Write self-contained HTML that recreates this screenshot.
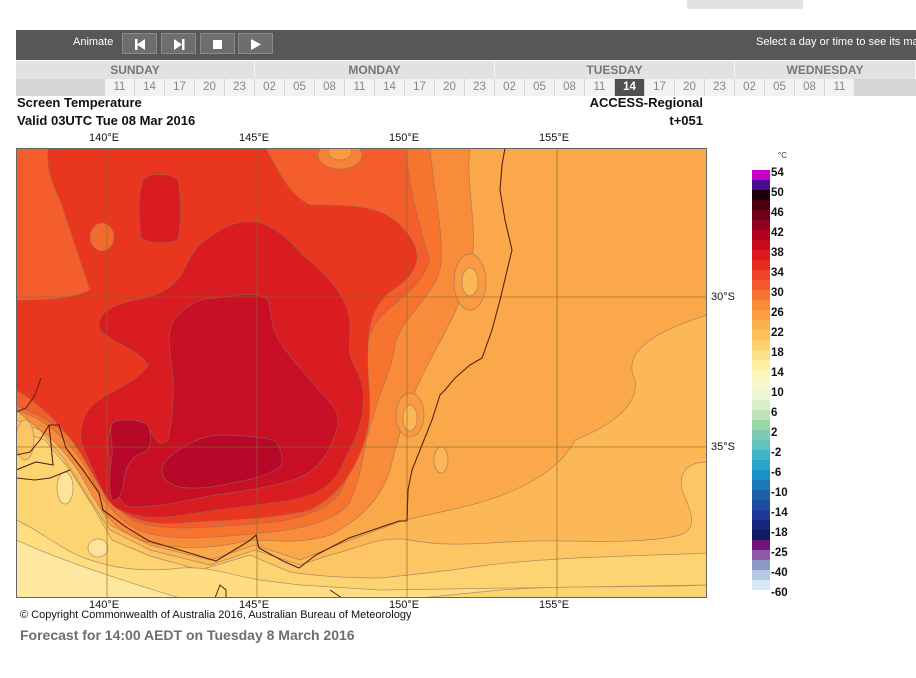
<!DOCTYPE html>
<html><head><meta charset="utf-8">
<style>
*{margin:0;padding:0;box-sizing:border-box}
body{width:916px;height:678px;background:#fff;position:relative;overflow:hidden;font-family:"Liberation Sans",Arial,sans-serif}
.a{position:absolute;white-space:nowrap}
.bar{left:16px;top:30px;width:900px;height:30px;background:#575757}
.btn{top:33px;width:35px;height:21px;background:#6e6e6e;border:1px solid #8a8a8a}
.day{top:61px;height:18px;background:#e2e2e2;color:#777;font-size:12px;font-weight:bold;text-align:center;line-height:18px;border-right:1px solid #f4f4f4}
.hr{top:79px;height:17px;width:30px;background:#f2f2f2;border-right:1px solid #d4d4d4;color:#888;font-size:11.5px;text-align:center;line-height:17px}
.t{font-size:13px;font-weight:bold;color:#111}
.ax{font-size:11px;color:#111}
.cb{font-size:11.5px;font-weight:bold;color:#111;left:771px}
</style></head><body>
<div class="a" style="left:687px;top:0;width:116px;height:9px;background:#e2e2e2;border-radius:0 0 2px 2px"></div>
<div class="a bar"></div>
<div class="a" style="left:73px;top:36px;color:#fff;font-size:11px">Animate</div>
<div class="a btn" style="left:122px"><svg width="35" height="21"><rect x="12" y="5" width="2.5" height="11" fill="#fff"/><polygon points="14,10.5 22,5 22,16" fill="#fff"/></svg></div>
<div class="a btn" style="left:161px"><svg width="35" height="21"><polygon points="12,5 20,10.5 12,16" fill="#fff"/><rect x="20" y="5" width="2.5" height="11" fill="#fff"/></svg></div>
<div class="a btn" style="left:200px"><svg width="35" height="21"><rect x="12" y="6" width="9" height="9" fill="#fff"/></svg></div>
<div class="a btn" style="left:238px"><svg width="35" height="21"><polygon points="12,5 22,10.5 12,16" fill="#fff"/></svg></div>
<div class="a" style="left:756px;top:36px;color:#fff;font-size:11px">Select a day or time to see its map</div>
<div class="a" style="left:16px;top:61px;width:900px;height:35px;background:#d6d6d6"></div>
<div class="a day" style="left:16px;width:239px">SUNDAY</div>
<div class="a day" style="left:255px;width:240px">MONDAY</div>
<div class="a day" style="left:495px;width:240px">TUESDAY</div>
<div class="a day" style="left:735px;width:181px">WEDNESDAY</div>
<div id="hrs"></div>
<script>
var h=["11","14","17","20","23","02","05","08","11","14","17","20","23","02","05","08","11","14","17","20","23","02","05","08","11"];
var s="";for(var i=0;i<h.length;i++){var sel=(i==17);s+='<div class="a hr" style="left:'+(105+30*i)+'px;'+(sel?'background:#505050;color:#fff;font-weight:bold;':'')+'">'+h[i]+'</div>';}
document.getElementById("hrs").innerHTML=s;
</script>
<div class="a t" style="left:17px;top:95px">Screen Temperature</div>
<div class="a t" style="left:17px;top:113px">Valid 03UTC Tue 08 Mar 2016</div>
<div class="a t" style="right:213px;top:95px">ACCESS-Regional</div>
<div class="a t" style="right:213px;top:113px">t+051</div>
<div class="a ax" style="left:89px;top:132px">140°E</div>
<div class="a ax" style="left:239px;top:132px">145°E</div>
<div class="a ax" style="left:389px;top:132px">150°E</div>
<div class="a ax" style="left:539px;top:132px">155°E</div>
<div class="a ax" style="left:89px;top:599px">140°E</div>
<div class="a ax" style="left:239px;top:599px">145°E</div>
<div class="a ax" style="left:389px;top:599px">150°E</div>
<div class="a ax" style="left:539px;top:599px">155°E</div>
<div class="a ax" style="left:711px;top:291px">30°S</div>
<div class="a ax" style="left:711px;top:441px">35°S</div>

<svg class="a" style="left:16px;top:148px" width="692" height="450" viewBox="16 148 692 450">
<defs><clipPath id="c"><rect x="16" y="148" width="691" height="450"/></clipPath></defs>
<g clip-path="url(#c)" stroke="#8f7158" stroke-width="0.7" stroke-opacity="0.7">
<rect x="16" y="148" width="692" height="450" fill="#fba84a" stroke="none"/>
<path fill="#fcb857" d="M707,315 C660,330 620,350 635,380 C640,410 600,430 575,440 C560,470 520,495 450,510 L405,520 L350,540 L300,560 L255,545 L210,560 L150,545 L110,525 L90,490 L60,440 L30,410 L16,400 L16,598 L707,598 Z"/>
<path fill="#fdc563" d="M707,462 C690,462 678,470 682,490 C690,510 700,528 680,535 C640,545 580,540 530,541 C490,542 450,548 410,540 C380,535 360,548 330,555 L300,565 L255,550 L210,565 L150,550 L110,530 L90,500 L65,460 L40,430 L16,420 L16,598 L707,598 Z"/>
<path fill="#fdd472" d="M707,553 C650,556 560,556 480,566 C440,572 410,575 380,578 C340,578 310,575 290,572 L250,555 L200,570 L150,556 L112,540 L95,510 L70,470 L45,440 L16,430 L16,598 L707,598 Z"/>
<path fill="#fedd83" d="M707,585 C650,588 560,585 500,590 L420,598 L16,598 L16,520 C40,530 60,550 90,560 C120,570 150,572 180,568 C210,566 230,575 260,580 L300,585 L380,590 Z"/>
<path fill="#fee8a0" d="M16,540 C60,560 120,580 180,598 L16,598 Z"/>
<ellipse cx="65" cy="488" rx="8" ry="16" fill="#fee39a"/>
<ellipse cx="98" cy="548" rx="10" ry="9" fill="#fee39a"/>
<path fill="#f98c3a" d="M16,148 L470,148 C465,190 480,230 470,270 C460,310 440,340 425,370 C410,400 400,430 390,470 C380,500 360,520 330,535 C300,545 270,540 250,540 C210,550 170,550 140,540 C115,530 100,510 88,488 C75,462 55,440 40,430 L16,410 Z"/>
<path fill="#f7742f" d="M16,148 L430,148 C435,200 445,240 440,270 C430,300 400,320 395,345 C392,370 380,390 372,420 C362,450 362,480 348,505 C332,522 300,530 260,533 C210,538 170,542 138,530 C115,518 100,498 90,475 C76,448 52,425 30,415 L16,410 Z"/>
<path fill="#f35e2c" d="M16,148 L405,148 C410,190 420,230 430,260 C420,290 395,300 378,320 C362,340 366,370 362,400 C357,430 353,460 342,490 C327,513 292,522 252,524 C202,528 162,532 132,520 C110,505 100,482 88,460 C72,435 50,420 30,412 L16,405 Z"/>
<path fill="#e9361f" d="M49,148 L266,148 C280,175 290,195 310,205 C350,205 380,205 400,225 C420,245 425,265 400,285 C375,300 368,320 368,350 C366,380 375,410 365,440 C355,470 340,495 310,510 C270,520 220,520 180,523 C150,526 125,518 108,500 C95,480 85,458 70,438 C55,420 35,400 16,390 L16,300 C40,300 70,300 90,290 C80,260 70,230 60,200 C50,180 45,160 49,148 Z"/>
<path fill="#d81c22" d="M213,235 C230,222 249,218 266,225 C283,232 296,248 306,258 C320,270 340,285 349,315 C352,330 348,345 350,355 C355,370 366,381 363,405 C362,430 350,448 340,470 C328,490 310,498 280,502 C250,506 215,510 183,515 C160,518 140,520 116,508 C100,495 95,470 84,450 C78,438 80,415 95,403 C110,390 135,385 148,365 C140,350 115,345 100,330 C95,315 110,305 135,300 C160,296 175,288 185,268 C192,252 200,242 213,235 Z"/>
<path fill="#d81c22" d="M143,180 C150,172 170,173 178,180 C182,200 181,225 178,240 C165,245 150,243 141,238 C138,215 138,195 143,180 Z"/>
<path fill="#c80f26" d="M173,321 C185,305 200,298 216,298 C240,294 260,292 268,300 C272,315 270,325 280,342 C292,360 310,380 326,398 C336,408 342,418 335,435 C328,452 322,465 305,475 C285,485 250,490 216,495 C185,500 160,508 130,507 C118,505 112,480 110,460 C106,445 108,428 115,422 C130,420 145,422 150,430 C156,440 160,448 168,440 C172,420 174,400 173,380 C172,360 165,340 173,321 Z"/>
<path fill="#b8082a" d="M163,465 C175,448 200,437 216,435 C240,435 265,437 276,441 C282,452 284,460 280,467 C268,475 250,480 232,483 C210,488 190,490 176,486 C165,482 160,475 163,465 Z"/>
<path fill="#b8082a" d="M113,422 C125,418 140,420 148,425 C152,435 152,447 145,452 C132,456 126,465 124,480 C122,495 118,502 112,500 C108,490 110,470 112,455 C113,440 108,430 113,422 Z"/>
<ellipse cx="102" cy="237" rx="12" ry="14" fill="#f36a2e"/>
<ellipse cx="340" cy="155" rx="22" ry="14" fill="#f8823a"/>
<ellipse cx="340" cy="152" rx="12" ry="8" fill="#fa9a42"/>
<ellipse cx="470" cy="282" rx="16" ry="28" fill="#fa9a42"/>
<ellipse cx="470" cy="282" rx="8" ry="14" fill="#fcb857"/>
<ellipse cx="410" cy="415" rx="14" ry="22" fill="#fa9a42"/>
<ellipse cx="410" cy="418" rx="7" ry="13" fill="#fcb857"/>
<ellipse cx="441" cy="460" rx="7" ry="13" fill="#fcb857"/>
<ellipse cx="25" cy="440" rx="9" ry="20" fill="#fdc563"/>
</g>
<g clip-path="url(#c)" fill="none">
<g stroke="#8a6a2a" stroke-width="0.8" stroke-opacity="0.8">
<line x1="107" y1="148" x2="107" y2="598"/><line x1="257" y1="148" x2="257" y2="598"/>
<line x1="407" y1="148" x2="407" y2="598"/><line x1="557" y1="148" x2="557" y2="598"/>
<line x1="16" y1="297" x2="707" y2="297"/><line x1="16" y1="447" x2="707" y2="447"/>
</g>
<path stroke="#5a2010" stroke-width="1.1" d="M505,148 L502,165 L500,190 L505,220 L512,250 L506,275 L500,300 L492,330 L482,358 L470,365 L455,378 L445,390 L440,395 L432,420 L422,445 L412,470 L408,490 L407,521 L399,521 L349,538 L316,555 L299,568 L283,561 L259,548 L256,535 L249,541 L216,561 L183,551 L149,541 L126,527 L103,510 L99,493 L83,470 L66,448 L59,425 L49,425 L53,465 L36,462 L16,470"/>
<path stroke="#5a2010" stroke-width="1" d="M41,378 L35,395 L26,408 L16,412 M49,425 L40,440 L30,452 L16,455 M70,470 L50,478 L35,480 L16,478"/>
<path stroke="#5a2010" stroke-width="1" d="M215,598 L220,585 L226,590 L226,598 M330,590 L342,598"/>
</g>
<rect x="16.5" y="148.5" width="690" height="449" fill="none" stroke="#666" stroke-width="1"/>
</svg>

<div class="a" style="left:778px;top:151px;font-size:8px;color:#333">°C</div>
<div id="cbar" class="a" style="left:752px;top:170px;width:18px"></div>
<script>
var c=["#c800c8","#4b0a96","#1a0008","#4a0010","#700018","#900020","#b00020","#c80a1e","#dc1a1e","#e82a20","#f04428","#f55a2c","#f87232","#fa8a38","#fb9e40","#fcb04a","#fdc05a","#fdd070","#fee088","#fef0a0","#fef8b8","#f8f8d0","#eef6d8","#d8eec8","#c0e4b8","#98d8a8","#7ccab4","#60c4c0","#40b4c8","#28a4cc","#1a90c4","#1a78b8","#1c60a8","#1e4ca0","#203898","#18247c","#101c60","#70147c","#9058a8","#8c98c8","#b4c8e4","#d4e8f8"];
var s="";for(var i=0;i<c.length;i++)s+='<div style="height:10px;background:'+c[i]+'"></div>';
document.getElementById("cbar").innerHTML=s;
var l=["54","50","46","42","38","34","30","26","22","18","14","10","6","2","-2","-6","-10","-14","-18","-25","-40","-60"];
var t="";for(var i=0;i<l.length;i++)t+='<div class="a cb" style="top:'+(167+20*i)+'px">'+l[i]+'</div>';
document.write(t);
</script>
<div class="a" style="left:20px;top:609px;font-size:11px;color:#111">© Copyright Commonwealth of Australia 2016, Australian Bureau of Meteorology</div>
<div class="a" style="left:20px;top:627px;font-size:14px;font-weight:bold;color:#6e6e6e">Forecast for 14:00 AEDT on Tuesday 8 March 2016</div>
</body></html>
